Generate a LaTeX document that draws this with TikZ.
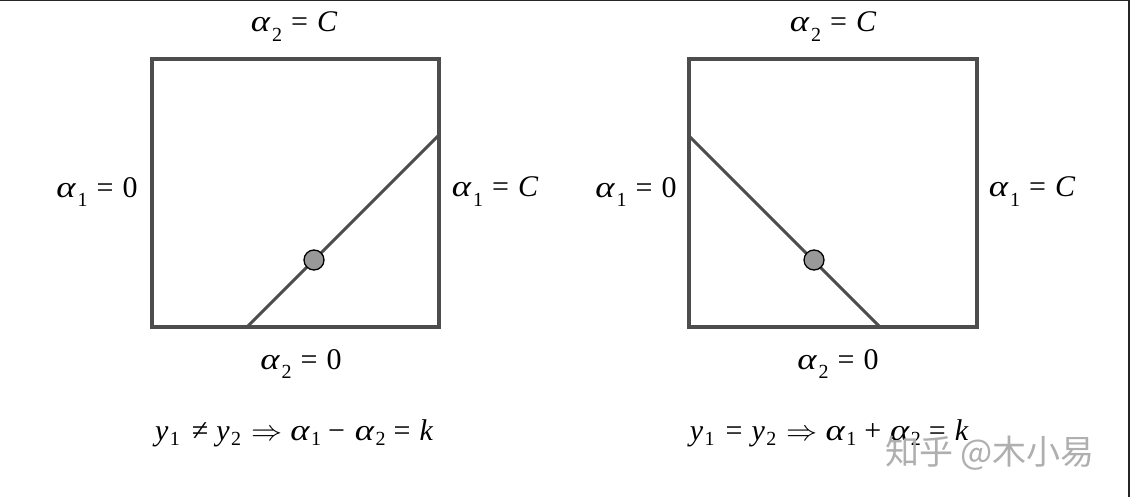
\documentclass[tikz,border=0pt]{standalone}
\usepackage{graphicx}
\usepackage{fontspec}
\setmainfont{Liberation Serif}
\newfontfamily\cjk{Noto Sans CJK SC}
\definecolor{boxgray}{RGB}{77,77,77}
\definecolor{dotgray}{RGB}{153,153,153}
\definecolor{wmgray}{RGB}{175,175,175}
\newcommand\vv[1]{{\itshape #1}}
\newcommand\al{\scalebox{1.22}[1]{\itshape α}}
\newcommand\subs[1]{\hspace{0.07em}\raisebox{-0.33em}{\fontsize{20}{20}\selectfont #1}}
\newcommand\fsub[1]{\hspace{0.05em}\raisebox{-0.17em}{\fontsize{20}{20}\selectfont #1}}
\newcommand\rel[1]{\hspace{0.3em}#1\hspace{0.3em}}
\newcommand\imp{\scalebox{1.25}[1.15]{$\Rightarrow$}}
\begin{document}
\begin{tikzpicture}[x=1pt,y=-1pt,
  boxline/.style={draw=boxgray,line width=3.5pt},
  diag/.style={draw=boxgray,line width=3pt},
  dot/.style={circle,draw=black,line width=1.3pt,fill=dotgray,minimum size=20pt,inner sep=0pt},
  lbl/.style={font=\fontsize{30}{34}\selectfont,inner sep=0pt},
  frameline/.style={draw=black!85,line width=1.5pt}]
\useasboundingbox (0,0) rectangle (1131,497);
\fill[white] (0,0) rectangle (1131,497);
% frame
\draw[frameline] (0,0.75) -- (1129,0.75) -- (1129,497);
% left box
\draw[boxline] (152,59) rectangle (439,327);
\coordinate (L1) at (247,327);
\coordinate (L2) at (439,135);
\draw[diag] (L1) -- (L2);
\node[dot] (Ld) at (314,260) {};
\node[lbl] (Lt) at (294,27) {\al\subs{2}\rel{=}\vv{C}};
\node[lbl] (Ll) at (97,192) {\al\subs{1}\rel{=}0};
\node[lbl] (Lr) at (495,192) {\al\subs{1}\rel{=}\vv{C}};
\node[lbl] (Lb) at (301,364) {\al\subs{2}\rel{=}0};
\node[lbl] (Lf) at (294,433) {\vv{y}\fsub{1}\hspace{12pt}≠\hspace{8pt}\vv{y}\fsub{2}\hspace{10pt}\imp\hspace{8pt}\al\fsub{1}\hspace{7pt}−\hspace{10pt}\al\fsub{2}\hspace{8pt}=\hspace{9pt}\vv{k}};
% right box
\draw[boxline] (689,59) rectangle (977,327);
\coordinate (R1) at (689,136);
\coordinate (R2) at (880,327);
\draw[diag] (R1) -- (R2);
\node[dot] (Rd) at (814,260) {};
\node[lbl] (Rt) at (833,27) {\al\subs{2}\rel{=}\vv{C}};
\node[lbl] (Rl) at (636,192) {\al\subs{1}\rel{=}0};
\node[lbl] (Rr) at (1032,192) {\al\subs{1}\rel{=}\vv{C}};
\node[lbl] (Rb) at (838,364) {\al\subs{2}\rel{=}0};
\node[lbl] (Rf) at (829,433) {\vv{y}\fsub{1}\hspace{11pt}=\hspace{9pt}\vv{y}\fsub{2}\hspace{10pt}\imp\hspace{8pt}\al\fsub{1}\hspace{8pt}+\hspace{9pt}\al\fsub{2}\hspace{8pt}=\hspace{9pt}\vv{k}};
% watermark
\node[text=wmgray,font=\cjk\fontsize{34}{38}\selectfont,inner sep=0pt] (wm) at (990,453) {知乎 @木小易};
\end{tikzpicture}
\end{document}
